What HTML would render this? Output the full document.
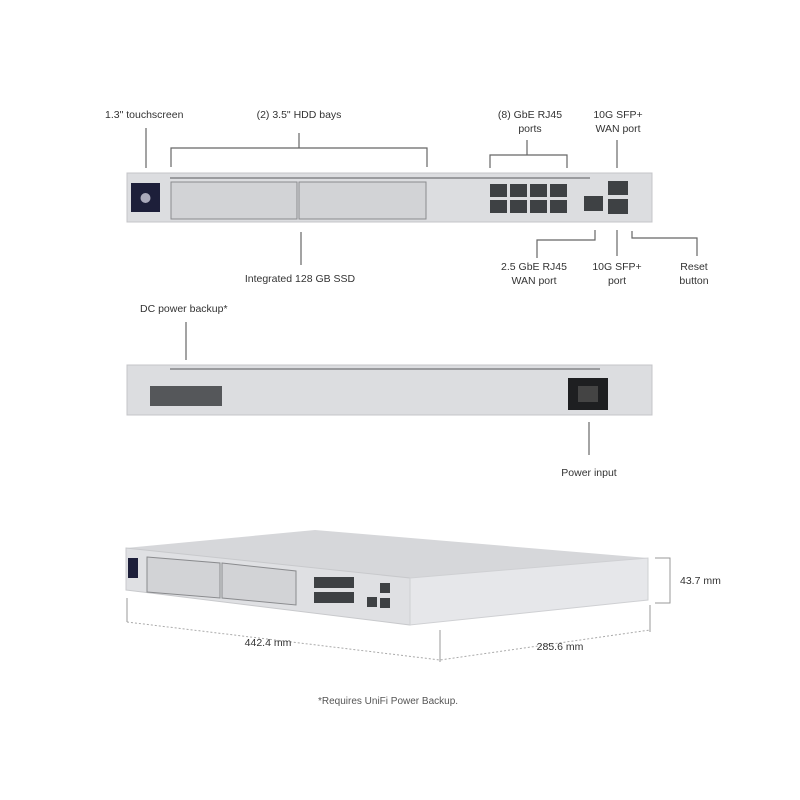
<!DOCTYPE html>
<html><head><meta charset="utf-8"><style>
body{margin:0;background:#fff}
svg{display:block;font-family:"Liberation Sans",sans-serif}
text{font-size:10.5px;fill:#333}
</style></head><body>
<svg width="800" height="800" viewBox="0 0 800 800">
<g stroke="#666" stroke-width="1.2" fill="none">
<path d="M146 128V168"/>
<path d="M299 133V148M171 167V148H427V167"/>
<path d="M527 140V155M490 168V155H567V168"/>
<path d="M617 140V168"/>
<path d="M301 232V265"/>
<path d="M595 230V240H537V258"/>
<path d="M617 230V256"/>
<path d="M632 231V238H697V256"/>
<path d="M186 322V360"/>
<path d="M589 422V455"/>
</g>
<text x="105" y="118">1.3" touchscreen</text>
<text x="299" y="118" text-anchor="middle">(2) 3.5" HDD bays</text>
<text x="530" y="118" text-anchor="middle">(8) GbE RJ45</text>
<text x="530" y="132" text-anchor="middle">ports</text>
<text x="618" y="118" text-anchor="middle">10G SFP+</text>
<text x="618" y="132" text-anchor="middle">WAN port</text>
<text x="300" y="282" text-anchor="middle">Integrated 128 GB SSD</text>
<text x="534" y="270" text-anchor="middle">2.5 GbE RJ45</text>
<text x="534" y="284" text-anchor="middle">WAN port</text>
<text x="617" y="270" text-anchor="middle">10G SFP+</text>
<text x="617" y="284" text-anchor="middle">port</text>
<text x="694" y="270" text-anchor="middle">Reset</text>
<text x="694" y="284" text-anchor="middle">button</text>
<text x="140" y="312">DC power backup*</text>
<text x="589" y="476" text-anchor="middle">Power input</text>
<!-- front panel -->
<rect x="127" y="173" width="525" height="49" fill="#dcdde0" stroke="#c4c5c8"/>
<g fill="#9a9b9e"><rect x="170" y="177" width="420" height="2"/></g>
<rect x="131" y="183" width="29" height="29" fill="#1d1f3a"/>
<circle cx="145.5" cy="198" r="5" fill="#aab" />
<rect x="171" y="182" width="126" height="37" fill="#d2d3d6" stroke="#8a8b8e"/>
<rect x="299" y="182" width="127" height="37" fill="#d2d3d6" stroke="#8a8b8e"/>
<g fill="#3e4144">
<rect x="490" y="184" width="17" height="13"/><rect x="510" y="184" width="17" height="13"/><rect x="530" y="184" width="17" height="13"/><rect x="550" y="184" width="17" height="13"/>
<rect x="490" y="200" width="17" height="13"/><rect x="510" y="200" width="17" height="13"/><rect x="530" y="200" width="17" height="13"/><rect x="550" y="200" width="17" height="13"/>
<rect x="584" y="196" width="19" height="15"/>
<rect x="608" y="181" width="20" height="14"/><rect x="608" y="199" width="20" height="15"/>
</g>
<!-- rear panel -->
<rect x="127" y="365" width="525" height="50" fill="#dcdde0" stroke="#c4c5c8"/>
<rect x="170" y="368" width="430" height="2" fill="#9a9b9e"/>
<rect x="150" y="386" width="72" height="20" fill="#55575a"/>
<rect x="568" y="378" width="40" height="32" fill="#1e1f21"/>
<rect x="578" y="386" width="20" height="16" fill="#444"/>
<!-- perspective -->
<polygon points="126,548 315,530 648,558 410,578" fill="#d6d7da"/>
<polygon points="126,548 410,578 410,625 126,590" fill="#dfe0e3" stroke="#c8c9cc"/>
<polygon points="410,578 648,558 648,600 410,625" fill="#e6e7ea" stroke="#cfd0d3"/>
<rect x="128" y="558" width="10" height="20" fill="#1d1f3a"/>
<polygon points="147,557 220,563 220,598 147,592" fill="#d2d3d6" stroke="#8a8b8e"/>
<polygon points="222,563 296,571 296,605 222,598" fill="#d2d3d6" stroke="#8a8b8e"/>
<g fill="#3e4144">
<rect x="314" y="577" width="40" height="11"/><rect x="314" y="592" width="40" height="11"/>
<rect x="367" y="597" width="10" height="10"/><rect x="380" y="583" width="10" height="10"/><rect x="380" y="598" width="10" height="10"/>
</g>
<g stroke="#aaa" stroke-width="1" fill="none" stroke-dasharray="2,2">
<path d="M127 622L440 660L650 630"/>
</g>
<g stroke="#999" stroke-width="1" fill="none">
<path d="M127 598V622M440 630V662M650 605V632M655 558H670V603H655"/>
</g>
<text x="268" y="646" text-anchor="middle">442.4 mm</text>
<text x="560" y="650" text-anchor="middle">285.6 mm</text>
<text x="680" y="584">43.7 mm</text>
<text x="388" y="704" text-anchor="middle" style="font-size:10px;fill:#555">*Requires UniFi Power Backup.</text>
</svg>
</body></html>
